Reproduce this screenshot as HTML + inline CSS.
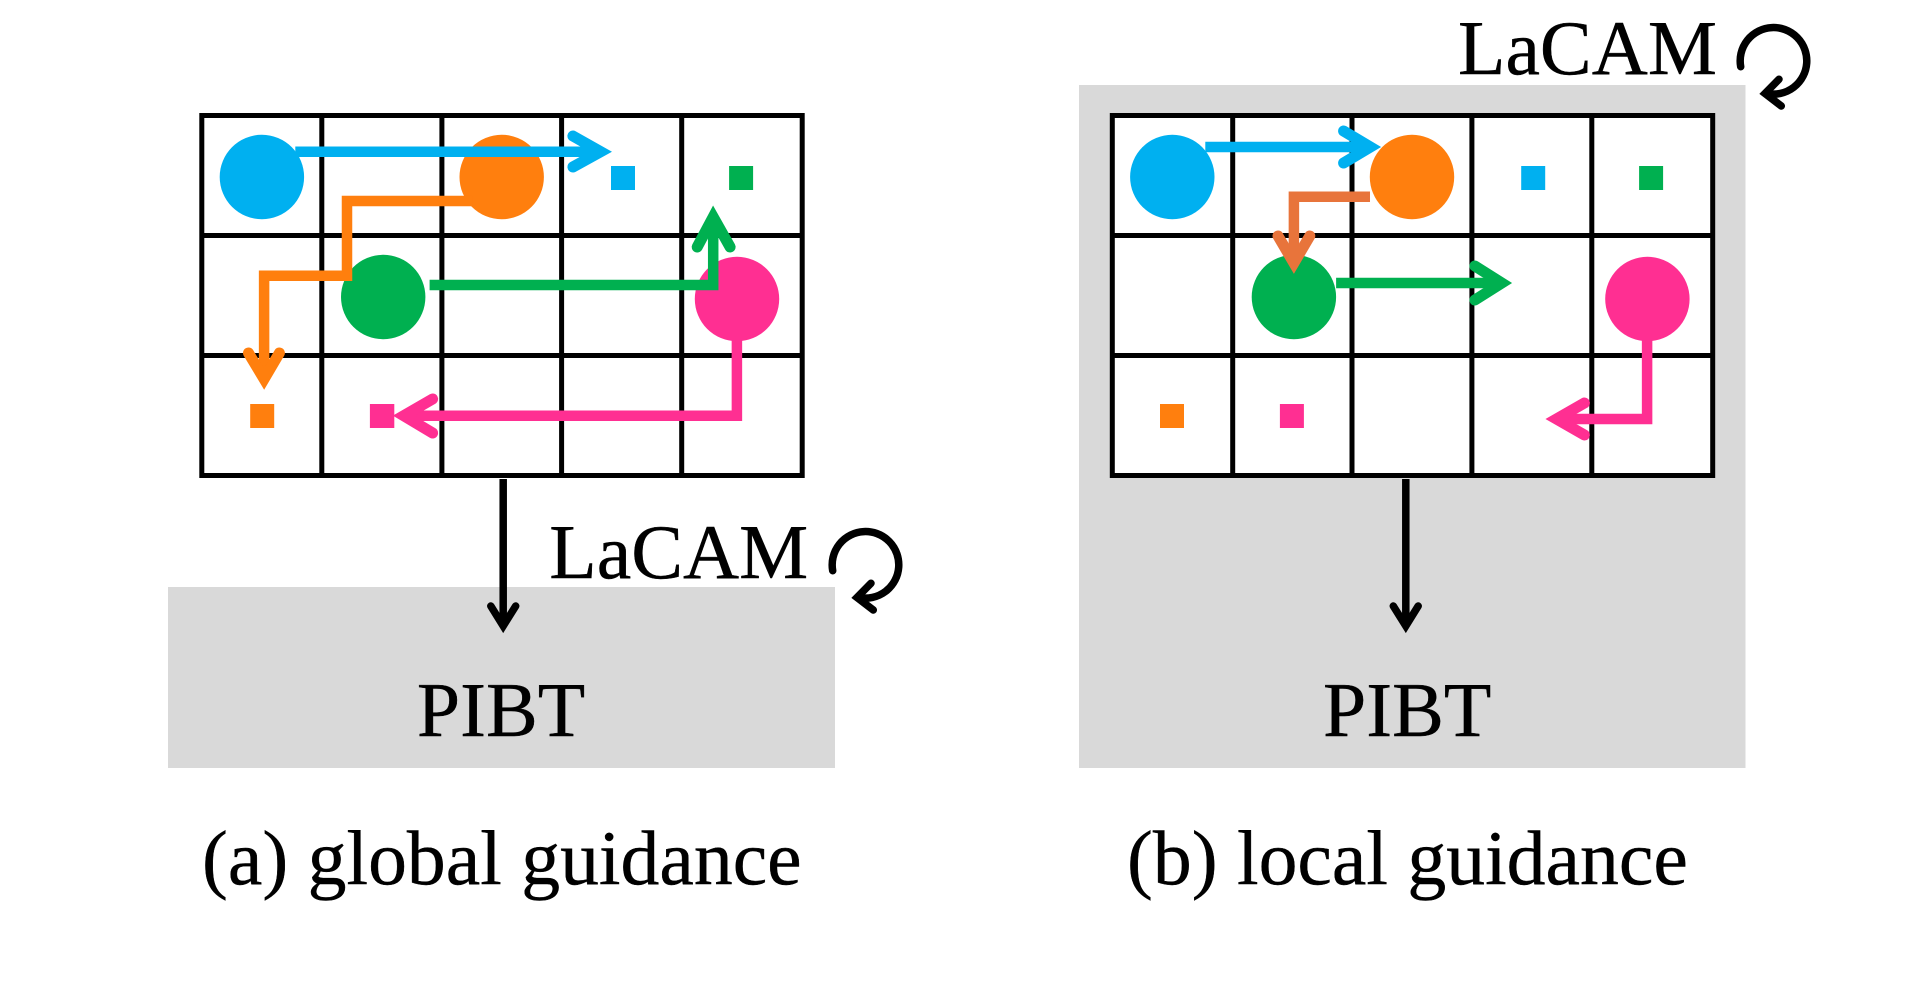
<!DOCTYPE html>
<html><head><meta charset="utf-8"><style>
html,body{margin:0;padding:0;background:#fff;width:1932px;height:988px;overflow:hidden}
svg{display:block}
text{font-family:"Liberation Serif",serif;font-size:77.7px;fill:#000;stroke:#000;stroke-width:.4}
.g{stroke:#000;stroke-width:5;fill:none}
.p{fill:none;stroke-width:10.5;stroke-linejoin:miter;stroke-linecap:butt;stroke-miterlimit:10}
.h{fill:none;stroke-width:11;stroke-linejoin:miter;stroke-linecap:round;stroke-miterlimit:10}
</style></head><body>
<svg width="1932" height="988" viewBox="0 0 1932 988" xmlns="http://www.w3.org/2000/svg">
<rect width="1932" height="988" fill="#fff"/>
<rect x="168" y="587" width="667" height="181" fill="#d9d9d9"/>
<rect x="1079" y="85" width="666.5" height="683" fill="#d9d9d9"/>

<!-- Grid A -->
<rect x="201.8" y="115.5" width="600.4" height="360" fill="#fff"/>
<g class="g"><rect x="201.8" y="115.5" width="600.4" height="360"/>
<path d="M321.8 115.5V475.5M441.9 115.5V475.5M561.6 115.5V475.5M681.7 115.5V475.5M201.8 235.5H802.2M201.8 355.5H802.2"/></g>
<circle cx="261.9" cy="177" r="42.2" fill="#00b0f0"/>
<circle cx="501.7" cy="177" r="42.2" fill="#ff7f0e"/>
<circle cx="383.2" cy="297" r="42.2" fill="#00b050"/>
<circle cx="737" cy="299" r="42.2" fill="#ff2f92"/>
<rect x="611" y="166" width="24" height="24" fill="#00b0f0"/>
<rect x="729.1" y="166" width="24" height="24" fill="#00b050"/>
<rect x="250.2" y="404" width="24" height="24" fill="#ff7f0e"/>
<rect x="369.9" y="404" width="24.4" height="24" fill="#ff2f92"/>

<path class="p" stroke="#ff7f0e" d="M472.4 201H347V275.7H264.1V378"/>
<path class="h" stroke="#ff7f0e" d="M248.5 353L264.1 379L279.4 353"/>
<path class="p" stroke="#00b0f0" d="M295.3 151.7H600.7"/>
<path class="h" stroke="#00b0f0" d="M572.9 136L600.7 151.7L572.9 167"/>
<path class="p" stroke="#00b050" d="M429.6 285H713.2V217"/>
<path class="h" stroke="#00b050" d="M697.2 247L713.2 217L730.1 247"/>
<path class="p" stroke="#ff2f92" d="M736.9 340V415.7H403.7"/>
<path class="h" stroke="#ff2f92" d="M432.6 399L403.7 415.7L432.6 433"/>

<path d="M503.2 479V625" stroke="#000" stroke-width="7.5" fill="none"/>
<path d="M490.8 606L503.2 626L515.7 606" stroke="#000" stroke-width="7.5" stroke-linecap="round" stroke-miterlimit="10" fill="none"/>

<text x="549.3" y="578">LaCAM</text>
<path d="M832.7 570.7A33.3 33.3 0 1 1 859 597.5" fill="none" stroke="#000" stroke-width="7.5" stroke-linecap="round"/>
<path d="M871 583.3L857 597.5L873.3 610" fill="none" stroke="#000" stroke-width="7.5" stroke-linecap="round" stroke-linejoin="miter"/>

<text x="416.9" y="736">PIBT</text>
<text x="202" y="884">(a) global guidance</text>

<!-- Grid B -->
<rect x="1112.3" y="115.5" width="600.4" height="360" fill="#fff"/>
<g class="g"><rect x="1112.3" y="115.5" width="600.4" height="360"/>
<path d="M1232.7 115.5V475.5M1352 115.5V475.5M1471.9 115.5V475.5M1591.8 115.5V475.5M1112.3 235.5H1712.7M1112.3 355.5H1712.7"/></g>
<circle cx="1172.3" cy="177" r="42.2" fill="#00b0f0"/>
<circle cx="1412" cy="177" r="42.2" fill="#ff7f0e"/>
<circle cx="1293.9" cy="297" r="42.2" fill="#00b050"/>
<circle cx="1647.4" cy="299" r="42.2" fill="#ff2f92"/>
<rect x="1521.2" y="166" width="24" height="24" fill="#00b0f0"/>
<rect x="1639.1" y="166" width="24" height="24" fill="#00b050"/>
<rect x="1160" y="404" width="24" height="24" fill="#ff7f0e"/>
<rect x="1279.9" y="404" width="24" height="24" fill="#ff2f92"/>

<path class="p" stroke="#00b0f0" d="M1205.3 147H1370.4"/>
<path class="h" stroke="#00b0f0" d="M1343.6 131L1370.4 147L1343.6 163"/>
<path class="p" stroke="#e8743b" d="M1370 196.7H1293.9V263"/>
<path class="h" stroke="#e8743b" d="M1278 236L1293.9 263L1309.8 236"/>
<path class="p" stroke="#00b050" d="M1336.1 283H1501.8"/>
<path class="h" stroke="#00b050" d="M1474.9 266L1501.8 283L1474.9 300"/>
<path class="p" stroke="#ff2f92" d="M1647.1 340V419H1556.5"/>
<path class="h" stroke="#ff2f92" d="M1584.4 403L1556.5 419L1584.4 435"/>

<path d="M1405.8 479V625" stroke="#000" stroke-width="7.5" fill="none"/>
<path d="M1393.3 606L1405.8 626L1418.2 606" stroke="#000" stroke-width="7.5" stroke-linecap="round" stroke-miterlimit="10" fill="none"/>

<text x="1458" y="74">LaCAM</text>
<g transform="translate(908 -504)">
<path d="M832.7 570.7A33.3 33.3 0 1 1 859 597.5" fill="none" stroke="#000" stroke-width="7.5" stroke-linecap="round"/>
<path d="M871 583.3L857 597.5L873.3 610" fill="none" stroke="#000" stroke-width="7.5" stroke-linecap="round" stroke-linejoin="miter"/>
</g>

<text x="1323" y="736">PIBT</text>
<text x="1127" y="884">(b) local guidance</text>
</svg>
</body></html>
